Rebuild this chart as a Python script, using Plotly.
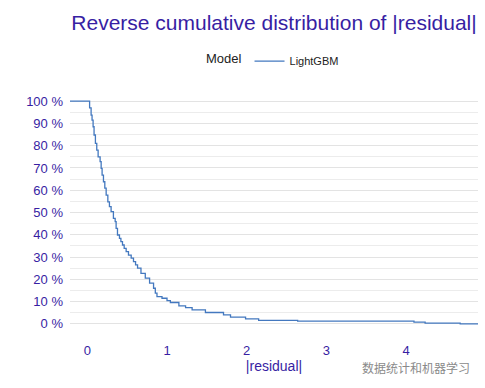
import plotly.graph_objects as go

# |residual| values (x) and share of observations with larger |residual| (y)
residual = [-0.218, 0.018, 0.028, 0.047, 0.059, 0.072, 0.084, 0.101, 0.118, 0.135,
            0.160, 0.173, 0.185, 0.202, 0.219, 0.236, 0.257, 0.277, 0.298, 0.327,
            0.349, 0.361, 0.378, 0.403, 0.421, 0.441, 0.462, 0.487, 0.516, 0.550,
            0.579, 0.605, 0.630, 0.673, 0.727, 0.781, 0.831, 0.853, 0.874, 0.937,
            1.000, 1.042, 1.149, 1.233, 1.315, 1.482, 1.709, 1.797, 1.986, 2.150,
            2.640, 4.100, 4.240, 4.680, 4.904]
share = [1.000, 1.000, 0.970, 0.937, 0.915, 0.885, 0.848, 0.810, 0.780, 0.750,
         0.728, 0.698, 0.668, 0.638, 0.609, 0.578, 0.548, 0.526, 0.504, 0.474,
         0.459, 0.429, 0.399, 0.384, 0.369, 0.354, 0.339, 0.324, 0.309, 0.295,
         0.279, 0.265, 0.250, 0.227, 0.205, 0.183, 0.160, 0.138, 0.122, 0.115,
         0.104, 0.096, 0.081, 0.073, 0.063, 0.051, 0.040, 0.030, 0.022, 0.016,
         0.012, 0.0076, 0.003, 0.0, 0.0]

model_name = "LightGBM"
y_tick_vals = [0, 0.1, 0.2, 0.3, 0.4, 0.5, 0.6, 0.7, 0.8, 0.9, 1.0]
y_tick_text = ["0 %", "10 %", "20 %", "30 %", "40 %", "50 %", "60 %", "70 %", "80 %", "90 %", "100 %"]
y_minor_vals = [-0.05, 0.05, 0.15, 0.25, 0.35, 0.45, 0.55, 0.65, 0.75, 0.85, 0.95, 1.05]
x_tick_vals = [0, 1, 2, 3, 4]

title_color = "#371ea3"
line_color = "#4378bf"
grid_color = "#e3e3e3"

fig = go.Figure()
fig.add_trace(go.Scatter(
    x=residual, y=share, mode="lines", name=model_name,
    line=dict(color=line_color, width=1.3, shape="hv"),
))

fig.update_layout(
    width=485, height=388,
    margin=dict(l=70, r=7, t=90, b=53, autoexpand=False),
    paper_bgcolor="white", plot_bgcolor="white",
    font=dict(family="Liberation Sans, Arial, sans-serif"),
    title=dict(text="Reverse cumulative distribution of |residual|",
               x=0.5, xref="paper", xanchor="center", y=1 - 23 / 388, yanchor="middle",
               font=dict(size=21, color=title_color)),
    showlegend=True,
    legend=dict(orientation="h", x=0.5, xanchor="center", y=1.118, yanchor="middle",
                title=dict(text="Model", font=dict(size=13, color="#222222"), side="left"),
                font=dict(size=11, color="#222222"), bgcolor="rgba(0,0,0,0)"),
    xaxis=dict(range=[-0.218, 4.904], tickvals=x_tick_vals, showgrid=False,
               zeroline=False, showline=False, ticks="", automargin=False,
               ticklabelstandoff=6,
               tickfont=dict(size=13, color=title_color),
               title=dict(text="|residual|", font=dict(size=14, color=title_color), standoff=3)),
    yaxis=dict(range=[-0.05, 1.05], tickvals=y_tick_vals, ticktext=y_tick_text,
               showgrid=True, gridcolor=grid_color, gridwidth=1, automargin=False,
               zeroline=False, showline=False, ticks="", ticklabelstandoff=6,
               tickfont=dict(size=13, color=title_color),
               minor=dict(tickvals=y_minor_vals, showgrid=True, gridcolor="#ececec", gridwidth=1)),
)

fig.add_annotation(text="数据统计和机器学习", xref="paper", yref="paper",
                   x=0.985, xanchor="right", y=-0.131, yanchor="middle", showarrow=False,
                   font=dict(size=12, color="#8a8a8a",
                             family="Noto Sans CJK SC, sans-serif"))

fig.write_html("out.html", config={"displayModeBar": False},
               post_script="document.body.style.margin='0';document.body.style.padding='0';")
